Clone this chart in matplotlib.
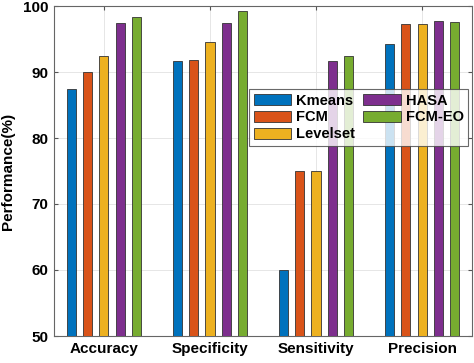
import matplotlib.pyplot as plt
import numpy as np

plt.rcParams['font.family'] = ['Liberation Sans', 'DejaVu Sans']
plt.rcParams['font.weight'] = 'bold'

metrics = ['Accuracy', 'Specificity', 'Sensitivity', 'Precision']
methods = ['Kmeans', 'FCM', 'Levelset', 'HASA', 'FCM-EO']
kmeans = [87.5, 91.6, 60.0, 94.3]
fcm = [90.0, 91.8, 75.0, 97.2]
levelset = [92.5, 94.5, 75.0, 97.2]
hasa = [97.5, 97.5, 91.6, 97.8]
fcm_eo = [98.3, 99.2, 92.4, 97.6]
colors = ['#0072BD', '#D95319', '#EDB120', '#7E2F8E', '#77AC30']

fig = plt.figure(figsize=(4.74, 3.63), dpi=100)
ax = fig.add_axes([54 / 474, 27 / 363, 418 / 474, 330 / 363])

x = np.arange(1, len(metrics) + 1)
step = 0.154
width = 0.087
for i, (vals, name) in enumerate(zip([kmeans, fcm, levelset, hasa, fcm_eo], methods)):
    ax.bar(x + (i - 2) * step, vals, width, color=colors[i], edgecolor='#333333',
           linewidth=0.6, label=name, zorder=3)

ax.set_xlim(0.53, 4.47)
ax.set_ylim(50, 100)
ax.set_xticks(x)
ax.set_xticklabels(metrics, fontsize=11, fontweight='bold')
ax.set_yticks([50, 60, 70, 80, 90, 100])
ax.tick_params(axis='y', labelsize=11)
ax.tick_params(direction='in', top=True, right=True, length=3, color='#555555', pad=4)
ax.set_ylabel('Performance(%)', fontsize=11, fontweight='bold', labelpad=6)
ax.grid(True, color='#e6e6e6', linewidth=0.7, zorder=0)
for s in ax.spines.values():
    s.set_color('#666666')
    s.set_linewidth(0.8)

leg = ax.legend(ncol=2, loc='upper left', bbox_to_anchor=(0.467, 0.748),
                fontsize=10.5, frameon=True, fancybox=False, edgecolor='#444444',
                handlelength=2.6, handleheight=0.8, columnspacing=0.6,
                labelspacing=0.2, handletextpad=0.3, borderpad=0.3, borderaxespad=0)
leg.get_frame().set_linewidth(0.8)

fig.savefig('out.png', dpi=100)
